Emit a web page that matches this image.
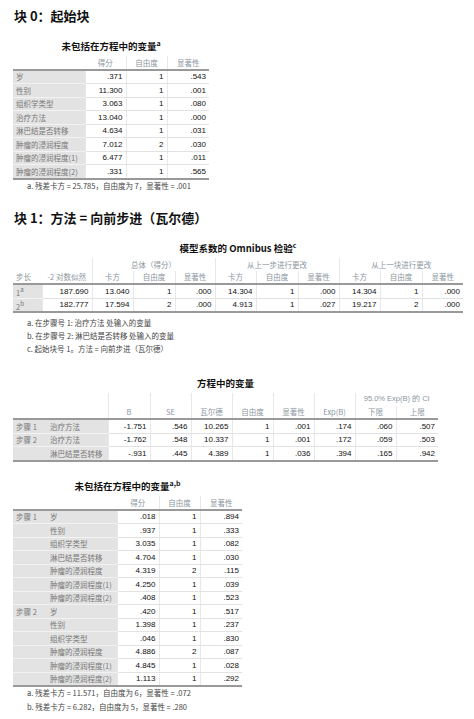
<!doctype html>
<html lang="zh">
<head>
<meta charset="utf-8">
<script src="https://cdn.jsdelivr.net/npm/chart.js"></script>
<title>SPSS output</title>
<style>
body{margin:0;background:#fff;font-family:"Liberation Sans","Noto Sans CJK SC",sans-serif;color:#111;}
.h{position:absolute;left:14px;font:bold 13px "Noto Sans CJK SC",sans-serif;}
.t{position:absolute;font:bold 9.5px "Noto Sans CJK SC",sans-serif;text-align:center;}
.t sup{font-size:7px}
table{position:absolute;border-collapse:collapse;table-layout:fixed;font-size:8px;}
td{height:12.5px;padding:0 3px;white-space:nowrap;overflow:hidden;border-bottom:1px solid #e2e2e2;text-align:right;border-left:1px solid #e8e8e8;}
td.l{text-align:left;background:#e3e3e3;color:#777;font-family:"Noto Sans CJK SC";font-size:7.5px;border-left:none;border-bottom-color:#f2f2f2}
tr.hd td{color:#8a96a0;text-align:center;border-bottom:none;font-family:"Noto Sans CJK SC";font-size:7.5px}
tr.hd.last td{border-bottom:2px solid #999}
tr.hd td.e{border-left:none}
tr.end td{border-bottom:2px solid #999}
.f{position:absolute;font-size:7.5px;color:#444;font-family:"Noto Sans CJK SC","Liberation Sans";}
</style>
</head>
<body>
<div class="h" style="top:6px">块 0：起始块</div>
<div class="t" style="top:38px;left:13px;width:196px">未包括在方程中的变量<sup>a</sup></div>
<table id="t1" style="left:13px;top:56px"></table>
<div class="f" style="left:27px;top:180px">a. 残差卡方 = 25.785，自由度为 7，显著性 = .001</div>

<div class="h" style="top:208px">块 1：方法 = 向前步进（瓦尔德）</div>
<div class="t" style="top:240px;left:13px;width:450px">模型系数的 Omnibus 检验<sup>c</sup></div>
<table id="t2" style="left:13px;top:258px"></table>
<div class="f" style="left:27px;top:317px">a. 在步骤号 1: 治疗方法 处输入的变量</div>
<div class="f" style="left:27px;top:330px">b. 在步骤号 2: 淋巴结是否转移 处输入的变量</div>
<div class="f" style="left:27px;top:343px">c. 起始块号 1。方法 = 向前步进（瓦尔德）</div>

<div class="t" style="top:376px;left:13px;width:425px">方程中的变量</div>
<table id="t3" style="left:13px;top:393px"></table>

<div class="t" style="top:478px;left:13px;width:229px">未包括在方程中的变量<sup>a,b</sup></div>
<table id="t4" style="left:13px;top:496px"></table>
<div class="f" style="left:27px;top:687px">a. 残差卡方 = 11.571，自由度为 6，显著性 = .072</div>
<div class="f" style="left:27px;top:701px">b. 残差卡方 = 6.282，自由度为 5，显著性 = .280</div>

<script>
// table 1: 块 0
const vars0 = ['岁','性别','组织学类型','治疗方法','淋巴结是否转移','肿瘤的浸润程度','肿瘤的浸润程度(1)','肿瘤的浸润程度(2)'];
const score0 = ['.371','11.300','3.063','13.040','4.634','7.012','6.477','.331'];
const df0 = [1,1,1,1,1,2,1,1];
const sig0 = ['.543','.001','.080','.000','.031','.030','.011','.565'];

// table 2: omnibus
const steps2 = ['1<sup>a</sup>','2<sup>b</sup>'];
const ll2 = ['187.690','182.777'];
const chiTot = ['13.040','17.594'], dfTot = [1,2], sigTot = ['.000','.000'];
const chiStep = ['14.304','4.913'], dfStep = [1,1], sigStep = ['.000','.027'];
const chiBlk = ['14.304','19.217'], dfBlk = [1,2], sigBlk = ['.000','.000'];

// table 3: 方程中的变量
const steps3 = ['步骤 1','步骤 2',''];
const vars3 = ['治疗方法','治疗方法','淋巴结是否转移'];
const B3 = ['-1.751','-1.762','-.931'];
const SE3 = ['.546','.548','.445'];
const wald3 = ['10.265','10.337','4.389'];
const df3 = [1,1,1];
const sig3 = ['.001','.001','.036'];
const expB3 = ['.174','.172','.394'];
const lo3 = ['.060','.059','.165'];
const hi3 = ['.507','.503','.942'];

// table 4
const vars4a = ['岁','性别','组织学类型','淋巴结是否转移','肿瘤的浸润程度','肿瘤的浸润程度(1)','肿瘤的浸润程度(2)'];
const score4a = ['.018','.937','3.035','4.704','4.319','4.250','.408'];
const df4a = [1,1,1,1,2,1,1];
const sig4a = ['.894','.333','.082','.030','.115','.039','.523'];
const vars4b = ['岁','性别','组织学类型','肿瘤的浸润程度','肿瘤的浸润程度(1)','肿瘤的浸润程度(2)'];
const score4b = ['.420','1.398','.046','4.886','4.845','1.113'];
const df4b = [1,1,1,2,1,1];
const sig4b = ['.517','.237','.830','.087','.028','.292'];

function build(id, widths, html){
  const t = document.getElementById(id);
  t.innerHTML = '<colgroup>' + widths.map(w => `<col style="width:${w}px">`).join('') + '</colgroup>' + html;
}
const td = (v, c) => `<td${c ? ` class="${c}"` : ''}>${v}</td>`;

let h = '<tr class="hd last"><td class="e" style="background:#fff"></td><td class="e">得分</td><td>自由度</td><td>显著性</td></tr>';
vars0.forEach((v, i) => {
  h += `<tr${i === vars0.length - 1 ? ' class="end"' : ''}>` + td(v, 'l') + td(score0[i]) + td(df0[i]) + td(sig0[i]) + '</tr>';
});
build('t1', [72, 41, 41, 42], h);

h = '<tr class="hd"><td class="e"></td><td class="e"></td><td colspan="3">总体（得分）</td><td colspan="3">从上一步进行更改</td><td colspan="3">从上一块进行更改</td></tr>';
h += '<tr class="hd last"><td class="e" style="text-align:left">步长</td><td class="e">-2 对数似然</td>' +
  ['卡方','自由度','显著性','卡方','自由度','显著性','卡方','自由度','显著性'].map(x => `<td>${x}</td>`).join('') + '</tr>';
steps2.forEach((s, i) => {
  h += `<tr${i === 1 ? ' class="end"' : ''}>` + td(s, 'l') + td(ll2[i]) + td(chiTot[i]) + td(dfTot[i]) + td(sigTot[i]) +
    td(chiStep[i]) + td(dfStep[i]) + td(sigStep[i]) + td(chiBlk[i]) + td(dfBlk[i]) + td(sigBlk[i]) + '</tr>';
});
build('t2', [29, 50, 41, 42, 40, 41, 42, 41, 41, 42, 41], h);

h = '<tr class="hd"><td class="e"></td><td class="e"></td><td></td><td></td><td></td><td></td><td></td><td></td><td colspan="2" style="font-family:Liberation Sans">95.0% Exp(B) 的 CI</td></tr>';
h += '<tr class="hd last"><td class="e"></td><td class="e"></td>' +
  ['B','SE','瓦尔德','自由度','显著性','Exp(B)','下限','上限'].map(x => `<td>${x}</td>`).join('') + '</tr>';
vars3.forEach((v, i) => {
  h += `<tr${i === 2 ? ' class="end"' : ''}>` + td(steps3[i], 'l') + td(v, 'l') + td(B3[i]) + td(SE3[i]) + td(wald3[i]) +
    td(df3[i]) + td(sig3[i]) + td(expB3[i]) + td(lo3[i]) + td(hi3[i]) + '</tr>';
});
build('t3', [34, 61, 42, 41, 41, 41, 41, 41, 41, 42], h);

h = '<tr class="hd last"><td class="e"></td><td class="e"></td><td class="e">得分</td><td>自由度</td><td>显著性</td></tr>';
vars4a.forEach((v, i) => {
  h += '<tr>' + td(i === 0 ? '步骤 1' : '', 'l') + td(v, 'l') + td(score4a[i]) + td(df4a[i]) + td(sig4a[i]) + '</tr>';
});
vars4b.forEach((v, i) => {
  h += `<tr${i === vars4b.length - 1 ? ' class="end"' : ''}>` + td(i === 0 ? '步骤 2' : '', 'l') + td(v, 'l') + td(score4b[i]) + td(df4b[i]) + td(sig4b[i]) + '</tr>';
});
build('t4', [34, 70, 42, 41, 42], h);
</script>
</body>
</html>
